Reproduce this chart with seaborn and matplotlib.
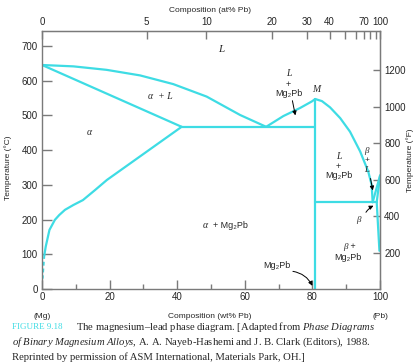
import numpy as np
import pandas as pd
import matplotlib
matplotlib.use("Agg")
import matplotlib.pyplot as plt
import seaborn as sns

# ---------------- data (wt% Pb, temperature in °C) ----------------
liq_left_wt = [0, 9.3, 19.1, 29.0, 38.8, 48.7, 58.6, 66.3]
liq_left_T = [645, 641, 631, 615, 590, 554, 501, 467]

sol_alpha_wt = [0, 41.3]
sol_alpha_T = [645, 467]

solvus_alpha_wt = [41.3, 19.2, 15.7, 12.1, 9.3, 6.8, 5.1, 3.8, 2.2, 1.1, 0.7]
solvus_alpha_T = [467, 314, 285, 256, 242, 228, 213, 199, 170, 122, 98]

solvus_dash_wt = [0.7, 0.4, 0.2]
solvus_dash_T = [98, 60, 30]

eut1_wt = [41.3, 80.8]
eut1_T = [467, 467]

liq_m_left_wt = [66.3, 71.4, 76.3, 79.8, 80.8]
liq_m_left_T = [467, 498, 521, 540, 547]

mg2pb_wt = [80.8, 80.8]
mg2pb_T = [0, 547]

liq_m_right_wt = [80.8, 82.8, 85.2, 88.2, 91.1, 94.1, 96.5, 97.5, 97.8]
liq_m_right_T = [547, 541, 523, 492, 453, 396, 338, 300, 250]

eut2_wt = [80.8, 99.0]
eut2_T = [250, 250]

liq_pb_wt = [97.8, 100]
liq_pb_T = [250, 327]

sol_beta_wt = [99.0, 100]
sol_beta_T = [250, 327]

solvus_beta_wt = [99.0, 99.8]
solvus_beta_T = [250, 110]

left_ticks = [0, 100, 200, 300, 400, 500, 600, 700]
bottom_ticks = [0, 20, 40, 60, 80, 100]
bottom_minor = [10, 30, 50, 70, 90]
top_ticks = [0, 5, 10, 20, 30, 40, 50, 60, 70, 80, 90, 100]
top_labels = ["0", "5", "10", "20", "30", "40", "", "", "70", "", "", "100"]
right_ticks = [200, 400, 600, 800, 1000, 1200]

curves = {
    "liq_left": (liq_left_wt, liq_left_T),
    "sol_alpha": (sol_alpha_wt, sol_alpha_T),
    "solvus_alpha": (solvus_alpha_wt, solvus_alpha_T),
    "eut1": (eut1_wt, eut1_T),
    "liq_m_left": (liq_m_left_wt, liq_m_left_T),
    "mg2pb": (mg2pb_wt, mg2pb_T),
    "liq_m_right": (liq_m_right_wt, liq_m_right_T),
    "eut2": (eut2_wt, eut2_T),
    "liq_pb": (liq_pb_wt, liq_pb_T),
    "sol_beta": (sol_beta_wt, sol_beta_T),
    "solvus_beta": (solvus_beta_wt, solvus_beta_T),
}
rows = []
for name, (xs, ys) in curves.items():
    for i, (x, y) in enumerate(zip(xs, ys)):
        rows.append({"curve": name, "order": i, "wt": x, "T": y})
df = pd.DataFrame(rows)
df_dash = pd.DataFrame({"curve": "dash", "wt": solvus_dash_wt, "T": solvus_dash_T})

# ---------------- style ----------------
sns.set_style("ticks")
SANS = ["Liberation Sans", "DejaVu Sans"]
plt.rcParams["font.family"] = SANS
plt.rcParams["mathtext.fontset"] = "custom"
plt.rcParams["mathtext.rm"] = "Liberation Serif"
plt.rcParams["mathtext.it"] = "Liberation Serif:italic"

CYAN = "#3EDCE4"
GRAY = "#7a7a7a"
SERIF = ["Liberation Serif", "DejaVu Serif"]

fig = plt.figure(figsize=(4.2, 3.64), dpi=100)
ax = fig.add_axes([0.1, 0.206, 0.805, 0.709])

sns.lineplot(data=df, x="wt", y="T", units="curve", estimator=None, sort=False,
             color=CYAN, lw=1.6, ax=ax, legend=False)
sns.lineplot(data=df_dash, x="wt", y="T", estimator=None, sort=False,
             color=CYAN, lw=1.4, ls=(0, (2, 1.5)), ax=ax, legend=False)

ax.set_xlim(0, 100)
ax.set_ylim(0, 743)
ax.set_xlabel("")
ax.set_ylabel("")
for s in ax.spines.values():
    s.set_color(GRAY)
    s.set_linewidth(1.0)

ax.set_xticks(bottom_ticks)
ax.set_xticks(bottom_minor, minor=True)
ax.set_yticks(left_ticks)
ax.tick_params(axis="x", which="major", direction="in", length=6.5, width=1,
               color=GRAY, labelsize=7, pad=2.5, top=False)
ax.tick_params(axis="x", which="minor", direction="in", length=3.5, width=1,
               color=GRAY, top=False)
ax.tick_params(axis="y", which="major", direction="in", length=7, width=1,
               color=GRAY, labelsize=7, pad=3, right=False)


def wt2at(w):
    w = np.clip(np.asarray(w, dtype=float), 0, 100)
    a = w / 207.2
    b = (100 - w) / 24.305
    return 100 * a / (a + b)


def at2wt(a):
    a = np.clip(np.asarray(a, dtype=float), 0, 100)
    m = a * 207.2
    n = (100 - a) * 24.305
    return 100 * m / (m + n)


top = ax.secondary_xaxis("top", functions=(wt2at, at2wt))
top.set_xticks(top_ticks)
top.set_xticklabels(top_labels)
top.tick_params(direction="in", length=6, width=1, color=GRAY, labelsize=7, pad=3)
top.spines["top"].set_color(GRAY)


def c2f(c):
    return (np.asarray(c, dtype=float) - 103.6) / 0.5264 + 200


def f2c(f):
    return (np.asarray(f, dtype=float) - 200) * 0.5264 + 103.6


right = ax.secondary_yaxis("right", functions=(c2f, f2c))
right.set_yticks(right_ticks)
right.tick_params(direction="in", length=5, width=1, color=GRAY, labelsize=7, pad=3)
right.spines["right"].set_color(GRAY)

# ---------------- region labels ----------------
def it(x, y, s, size=7, **kw):
    ax.text(x, y, s, family=SERIF, style="italic", fontsize=size,
            ha=kw.pop("ha", "center"), va="center", **kw)


def sn(x, y, s, size=6.5, **kw):
    ax.text(x, y, s, fontsize=size, ha=kw.pop("ha", "center"), va="center", **kw)


it(53, 689, "L", 8)
it(35, 553, "α  + L", 7)
it(14, 451, "α", 7)
it(48.2, 184, "α", 7)
sn(50.6, 184, "+ Mg₂Pb", ha="left")

it(72.9, 621, "L", 7)
sn(72.9, 590, "+", 6.5)
sn(72.9, 564, "Mg₂Pb")
ax.annotate("", xy=(75.1, 492), xytext=(73.9, 550),
            arrowprops=dict(arrowstyle="-|>", color="black", lw=0.7,
                            mutation_scale=6))
it(81, 575, "M", 7)

it(87.7, 381, "L", 7)
sn(87.7, 353, "+", 6.5)
sn(87.7, 328, "Mg₂Pb")

it(96.0, 396, "β", 6.5)
sn(96.0, 371, "+", 6)
it(96.0, 344, "L", 6.5)
ax.annotate("", xy=(98.0, 276), xytext=(97.0, 326),
            arrowprops=dict(arrowstyle="-|>", color="black", lw=0.7,
                            mutation_scale=6))

it(93.6, 199, "β", 6.5)
ax.annotate("", xy=(98.8, 243), xytext=(95.4, 214),
            arrowprops=dict(arrowstyle="-|>", color="black", lw=0.7,
                            mutation_scale=6, connectionstyle="arc3,rad=-0.2"))

it(90.5, 121, "β", 6.5, ha="right")
sn(90.6, 121, " +", ha="left", size=6.5)
sn(90.6, 92, "Mg₂Pb")

sn(69.4, 69, "Mg₂Pb")
ax.annotate("", xy=(80.3, 2), xytext=(73.4, 52),
            arrowprops=dict(arrowstyle="-|>", color="black", lw=0.7,
                            mutation_scale=6, connectionstyle="arc3,rad=-0.3"))

# ---------------- axis titles ----------------
fig.text(210 / 420, 1 - 10 / 364, "Composition (at% Pb)", fontsize=6,
         ha="center", va="center")
fig.text(210 / 420, 1 - 316 / 364, "Composition (wt% Pb)", fontsize=6,
         ha="center", va="center")
fig.text(42 / 420, 1 - 316 / 364, "(Mg)", fontsize=6, ha="center", va="center")
fig.text(380 / 420, 1 - 316 / 364, "(Pb)", fontsize=6, ha="center", va="center")
fig.text(8 / 420, 1 - 168 / 364, "Temperature (°C)", fontsize=6, rotation=90,
         ha="center", va="center")
fig.text(410 / 420, 1 - 160 / 364, "Temperature (°F)", fontsize=6, rotation=90,
         ha="center", va="center")

# ---------------- caption ----------------
fig.text(12 / 420, 1 - 327 / 364, "FIGURE 9.18", fontsize=6.5, color=CYAN,
         family=SERIF, ha="left", va="center")
fig.text(76 / 420, 1 - 327 / 364,
         r"The magnesium–lead phase diagram. [Adapted from $\it{Phase\ Diagrams}$",
         fontsize=7.7, family=SERIF, ha="left", va="center")
fig.text(12 / 420, 1 - 342 / 364,
         r"$\it{of\ Binary\ Magnesium\ Alloys}$, A. A. Nayeb-Hashemi and J. B. Clark (Editors), 1988.",
         fontsize=7.7, family=SERIF, ha="left", va="center")
fig.text(12 / 420, 1 - 357 / 364,
         "Reprinted by permission of ASM International, Materials Park, OH.]",
         fontsize=7.7, family=SERIF, ha="left", va="center")

fig.savefig("out.png", dpi=100)
